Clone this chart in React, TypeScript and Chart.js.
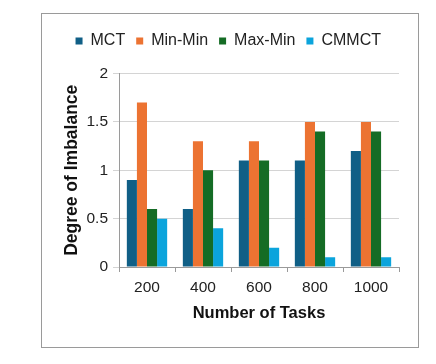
import React, { useEffect, useRef } from "react";
import { Chart, registerables } from "chart.js";

Chart.register(...registerables);

const categories = ["200", "400", "600", "800", "1000"];
const mct = [0.9, 0.6, 1.1, 1.1, 1.2];
const minMin = [1.7, 1.3, 1.3, 1.5, 1.5];
const maxMin = [0.6, 1.0, 1.1, 1.4, 1.4];
const cmmct = [0.5, 0.4, 0.2, 0.1, 0.1];
const seriesNames = ["MCT", "Min-Min", "Max-Min", "CMMCT"];
const seriesColors = ["#105f86", "#ec7332", "#156c25", "#0ba4dc"];

const FONT = "'Liberation Sans', Arial, sans-serif";

const framePlugin = {
  id: "frame",
  beforeDraw(chart: any) {
    const ctx = chart.ctx;
    ctx.save();
    ctx.fillStyle = "#ffffff";
    ctx.fillRect(0, 0, chart.width, chart.height);
    ctx.strokeStyle = "#9a9a9a";
    ctx.lineWidth = 1;
    ctx.strokeRect(41.5, 13.5, 377, 334);
    ctx.restore();
  },
};

export default function App() {
  const ref = useRef<HTMLCanvasElement>(null);
  useEffect(() => {
    if (!ref.current) return;
    const values = [mct, minMin, maxMin, cmmct];
    const chart = new Chart(ref.current, {
      type: "bar",
      data: {
        labels: categories,
        datasets: values.map((v, i) => ({
          label: seriesNames[i],
          data: v,
          backgroundColor: seriesColors[i],
          borderWidth: 0,
          barPercentage: 1,
          categoryPercentage: 0.72,
        })),
      },
      options: {
        animation: false,
        responsive: false,
        devicePixelRatio: 1,
        layout: { padding: { left: 57.5, right: 37, top: 22, bottom: 37 } },
        plugins: {
          tooltip: { enabled: false },
          legend: {
            position: "top",
            weight: 1000,
            labels: {
              boxWidth: 7,
              boxHeight: 7,
              padding: 11,
              color: "#222",
              font: { family: FONT, size: 16 },
            },
          },
          subtitle: {
            display: true,
            text: "",
            position: "top",
            weight: 500,
            font: { size: 1 },
            padding: { top: 13.3, bottom: 0 },
          },
        },
        scales: {
          x: {
            grid: {
              display: true,
              drawOnChartArea: false,
              offset: true,
              tickLength: 5,
              color: "#9a9a9a",
            },
            border: { color: "#9a9a9a" },
            ticks: { color: "#222", font: { family: FONT, size: 15.5 }, padding: 6 },
            title: {
              display: true,
              text: "Number of Tasks",
              color: "#111",
              font: { family: FONT, size: 16.5, weight: "bold" },
              padding: { top: 4, bottom: 4 },
            },
            afterFit(scale: any) {
              scale.height = 60;
            },
          },
          y: {
            min: 0,
            max: 2,
            ticks: {
              stepSize: 0.5,
              color: "#222",
              font: { family: FONT, size: 15.5 },
              padding: 5,
              callback: (v: any) => String(v),
            },
            grid: { color: "#d4d4d4", tickLength: 6 },
            border: { color: "#9a9a9a" },
            title: {
              display: true,
              text: "Degree of Imbalance",
              color: "#111",
              font: { family: FONT, size: 17.5, weight: "bold" },
            },
            afterFit(scale: any) {
              scale.width = 61.5;
            },
          },
        },
      },
      plugins: [framePlugin],
    });
    return () => chart.destroy();
  }, []);
  return (
    <div style={{ position: "absolute", left: 0, top: 0, width: 436, height: 364 }}>
      <canvas ref={ref} width={436} height={364} style={{ width: 436, height: 364 }} />
    </div>
  );
}
